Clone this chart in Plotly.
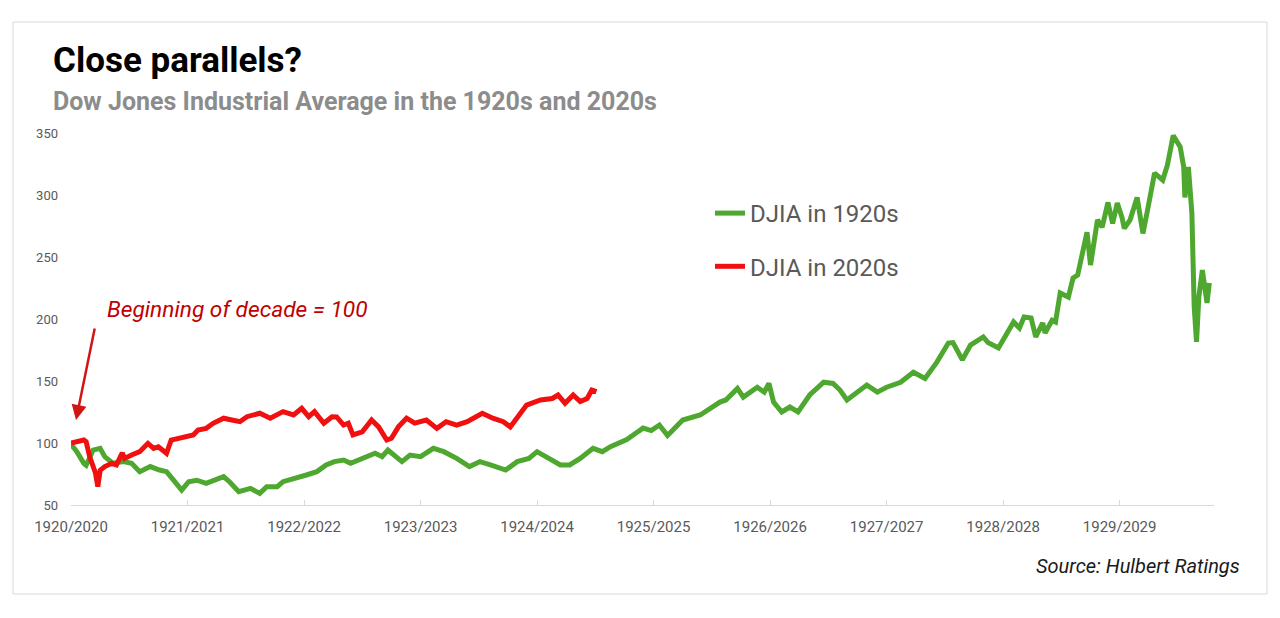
import plotly.graph_objects as go

# ---- data (fractional year, index: beginning of decade = 100) ----
years_1920s = [
    1920.00, 1920.05, 1920.11, 1920.13, 1920.19, 1920.25, 1920.29, 1920.36, 1920.45, 1920.52,
    1920.59, 1920.68, 1920.76, 1920.82, 1920.88, 1920.95, 1921.01, 1921.08, 1921.16, 1921.22,
    1921.31, 1921.36, 1921.44, 1921.54, 1921.62, 1921.68, 1921.77, 1921.82, 1921.94, 1922.02,
    1922.11, 1922.19, 1922.26, 1922.34, 1922.40, 1922.51, 1922.61, 1922.67, 1922.72, 1922.84,
    1922.91, 1923.00, 1923.11, 1923.20, 1923.31, 1923.42, 1923.51, 1923.60, 1923.73, 1923.83,
    1923.93, 1924.00, 1924.08, 1924.20, 1924.28, 1924.37, 1924.48, 1924.56, 1924.63,
    1924.77, 1924.85, 1924.91, 1924.98, 1925.05, 1925.12, 1925.20, 1925.25,
    1925.40, 1925.51, 1925.57, 1925.62, 1925.72, 1925.77, 1925.89, 1925.95, 1925.99, 1926.03,
    1926.10, 1926.17, 1926.24, 1926.34, 1926.46, 1926.54, 1926.60, 1926.66, 1926.75, 1926.83,
    1926.92, 1927.00, 1927.12, 1927.23, 1927.33, 1927.43, 1927.53, 1927.57, 1927.65, 1927.72,
    1927.83, 1927.87, 1927.96, 1928.09, 1928.14, 1928.18, 1928.24, 1928.28, 1928.34, 1928.36,
    1928.42, 1928.45, 1928.49, 1928.56, 1928.60, 1928.64, 1928.72, 1928.75, 1928.81, 1928.85,
    1928.90, 1928.94, 1928.98, 1929.02, 1929.04, 1929.09, 1929.15, 1929.20, 1929.24, 1929.30,
    1929.37, 1929.41, 1929.46, 1929.52, 1929.55, 1929.56, 1929.59, 1929.62, 1929.63, 1929.64,
    1929.66, 1929.68, 1929.71, 1929.75, 1929.77,
]
djia_1920s = [
    99, 93, 83.6, 82, 94.3, 95.7, 89, 83.6, 85, 83.6,
    76.9, 81, 78.2, 76.9, 70, 62, 68.8, 70, 67.5, 70,
    72.8, 68.8, 60.7, 63.4, 59.4, 64.8, 64.8, 68.8, 71.5, 74.2,
    76.9, 82.3, 85, 86.3, 83.6, 87.6, 91.7, 89, 94.3, 85,
    90.3, 89, 95.7, 93, 87.6, 81, 85, 82.3, 78.2, 85,
    87.6, 93, 89, 82.3, 82.3, 87.6, 95.7, 93, 97,
    102.7, 108, 112, 110, 114.5, 106, 113, 118.5,
    122.6, 129, 133, 134.7, 144, 137, 145, 141, 148, 133,
    125, 129, 125, 138.7, 149, 148, 142.7, 134.7, 141, 146.8,
    141, 145, 149, 157, 152, 165, 180.6, 181, 167, 179,
    185.5, 181, 176.6, 197.6, 192.7, 201.6, 200.8, 185.5, 196.8, 188.7,
    199, 197.6, 221, 217.7, 233, 235.5, 270, 243.5, 280, 274,
    294, 277, 293.5, 282, 273, 280, 298, 269, 288, 317.7,
    312, 324, 348, 338.7, 322.6, 298, 322.6, 285.5, 247.6, 209.7,
    181.5, 217.7, 239.5, 213, 229,
]

years_2020s = [
    1920.00, 1920.06, 1920.11, 1920.13, 1920.16, 1920.21, 1920.23, 1920.25, 1920.29, 1920.35,
    1920.39, 1920.44, 1920.46, 1920.52, 1920.59, 1920.66, 1920.71, 1920.75, 1920.79, 1920.82,
    1920.86, 1920.96, 1921.05, 1921.09, 1921.16, 1921.22, 1921.31, 1921.38, 1921.45, 1921.51,
    1921.62, 1921.71, 1921.82, 1921.91, 1921.98, 1922.04, 1922.09, 1922.17, 1922.24, 1922.28,
    1922.34, 1922.38, 1922.42, 1922.50, 1922.58, 1922.64, 1922.71, 1922.75, 1922.81, 1922.88,
    1922.95, 1923.05, 1923.14, 1923.22, 1923.31, 1923.40, 1923.53, 1923.62, 1923.71, 1923.77,
    1923.83, 1923.91, 1924.03, 1924.13, 1924.18, 1924.24, 1924.31, 1924.37, 1924.43, 1924.47,
    1924.51,
]
djia_2020s = [
    100, 101, 102.4, 101, 89, 75.8, 64.8, 78, 81, 83.6,
    82.3, 92, 87.6, 90.3, 93, 99.7, 95.7, 97, 94.3, 91.7,
    102.4, 105, 106.5, 110.5, 111.8, 115.9, 120, 118.6, 117.2, 121.2,
    124, 120, 125.3, 122.6, 128, 121.2, 125.3, 115.9, 121.2, 121,
    114.5, 115.9, 106.5, 109, 118.5, 113, 102.4, 103.8, 113, 120,
    116, 118.5, 111.8, 117.2, 114.5, 117.2, 124, 120, 117.2, 113,
    121.2, 130.6, 134.7, 135.9, 138.7, 132, 138.7, 133.4, 135.9, 142.7,
    141.4,
]

tick_years = list(range(1920, 1930))
tick_labels = [f"{y}/{y + 100}" for y in tick_years]
y_ticks = [50, 100, 150, 200, 250, 300, 350]

# ---- layout geometry helpers (pixels -> paper) ----
W, H = 1280, 618
L, R, T, B = 71, 66, 133, 113
PW, PH = W - L - R, H - T - B


def px(x):
    return (x - L) / PW


def py(y):
    return (H - B - y) / PH


GREEN = "#4EA72E"
RED = "#F01010"

fig = go.Figure()
fig.add_trace(go.Scatter(
    x=years_1920s, y=djia_1920s, mode="lines", name="DJIA in 1920s",
    line=dict(color=GREEN, width=5), legendgroup="a", cliponaxis=False,
))
fig.add_trace(go.Scatter(
    x=years_2020s, y=djia_2020s, mode="lines", name="DJIA in 2020s",
    line=dict(color=RED, width=5), legendgroup="b", cliponaxis=False,
))

fig.update_layout(
    width=W, height=H,
    margin=dict(l=L, r=R, t=T, b=B),
    paper_bgcolor="white", plot_bgcolor="white",
    font=dict(family="Roboto, sans-serif", color="#595959"),
    showlegend=True,
    legend=dict(
        x=px(710), y=py(191), xanchor="left", yanchor="top",
        font=dict(size=24, color="#595959"),
        bgcolor="rgba(0,0,0,0)", traceorder="grouped", tracegroupgap=19,
        itemwidth=30,
    ),
    xaxis=dict(
        range=[1920, 1929.81], tickvals=tick_years, ticktext=tick_labels,
        showgrid=False, zeroline=False, showline=True, linecolor="#D9D9D9", linewidth=1,
        ticks="inside", ticklen=5, tickcolor="#D9D9D9",
        tickfont=dict(size=15, color="#595959"), ticklabelstandoff=8,
    ),
    yaxis=dict(
        range=[50, 350], tickvals=y_ticks, showgrid=False, zeroline=False, showline=False,
        tickfont=dict(size=13, color="#595959"), ticklabelstandoff=12,
    ),
    shapes=[dict(
        type="rect", xref="paper", yref="paper",
        x0=px(13), x1=px(1267), y0=py(594), y1=py(22),
        line=dict(color="#D9D9D9", width=1), fillcolor="rgba(0,0,0,0)", layer="below",
    )],
    annotations=[
        dict(text="<b>Close parallels?</b>", xref="paper", yref="paper",
             x=px(51), y=py(61), xanchor="left", yanchor="middle", showarrow=False,
             font=dict(size=35, color="#000000")),
        dict(text="<b>Dow Jones Industrial Average in the 1920s and 2020s</b>",
             xref="paper", yref="paper", x=px(51), y=py(101), xanchor="left",
             yanchor="middle", showarrow=False, font=dict(size=25, color="#8C8C8C")),
        dict(text="<i>Beginning of decade = 100</i>", xref="paper", yref="paper",
             x=px(105), y=py(309), xanchor="left", yanchor="middle", showarrow=False,
             font=dict(size=22.7, color="#C00000")),
        dict(text="", x=1920.043, y=118.5, xref="x", yref="y", showarrow=True,
             ax=19, ay=-93, axref="pixel", ayref="pixel",
             arrowhead=2, arrowsize=1.2, arrowwidth=2.5, arrowcolor="#D01515"),
        dict(text="<i>Source: Hulbert Ratings</i>", xref="paper", yref="paper",
             x=px(1242), y=py(566), xanchor="right", yanchor="middle", showarrow=False,
             font=dict(size=20, color="#1A1A1A")),
    ],
)

fig.write_html("out.html")
